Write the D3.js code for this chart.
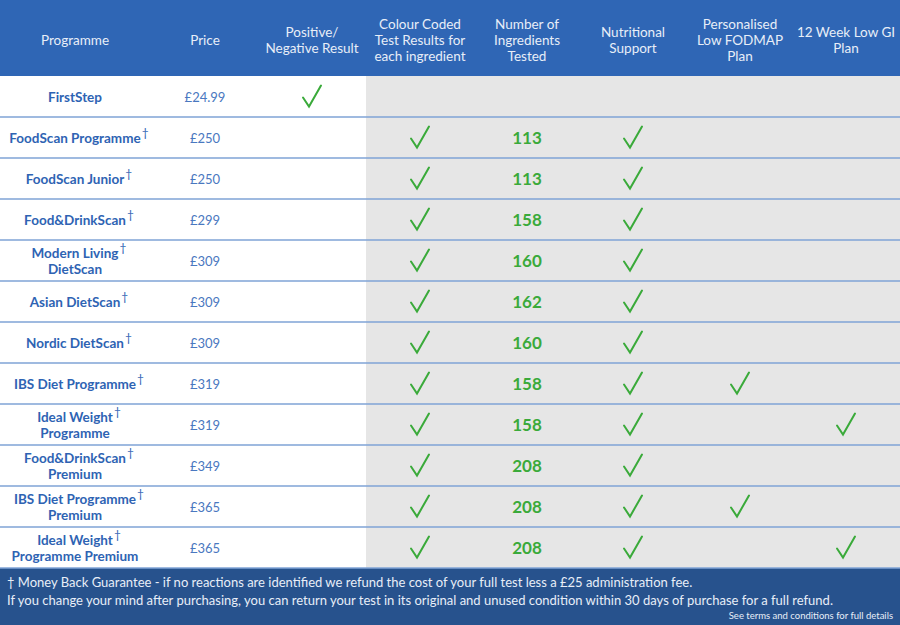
<!DOCTYPE html>
<html><head><meta charset="utf-8">
<script src="https://cdn.jsdelivr.net/npm/d3@7"></script>
<style>body{margin:0;background:#fff}svg{display:block}</style>
</head><body><svg id="c" width="900" height="625"></svg>
<script>
const headers=[["Programme"],["Price"],["Positive/","Negative Result"],["Colour Coded","Test Results for","each ingredient"],["Number of","Ingredients","Tested"],["Nutritional","Support"],["Personalised","Low FODMAP","Plan"],["12 Week Low GI","Plan"]];
const programmes=[["FirstStep"],["FoodScan Programme"],["FoodScan Junior"],["Food&DrinkScan"],["Modern Living","DietScan"],["Asian DietScan"],["Nordic DietScan"],["IBS Diet Programme"],["Ideal Weight","Programme"],["Food&DrinkScan","Premium"],["IBS Diet Programme","Premium"],["Ideal Weight","Programme Premium"]];
const dagger=[false,true,true,true,true,true,true,true,true,true,true,true];
const prices=["£24.99","£250","£250","£299","£309","£309","£309","£319","£319","£349","£365","£365"];
const posNeg=[1,0,0,0,0,0,0,0,0,0,0,0];
const colourCoded=[0,1,1,1,1,1,1,1,1,1,1,1];
const ingredients=[null,113,113,158,160,162,160,158,158,208,208,208];
const nutritional=[0,1,1,1,1,1,1,1,1,1,1,1];
const fodmap=[0,0,0,0,0,0,0,1,0,0,1,0];
const lowGI=[0,0,0,0,0,0,0,0,1,0,0,1];
const footer1="† Money Back Guarantee - if no reactions are identified we refund the cost of your full test less a £25 administration fee.";
const footer2="If you change your mind after purchasing, you can return your test in its original and unused condition within 30 days of purchase for a full refund.";
const footer3="See terms and conditions for full details";

const svg=d3.select("#c");
const F="Lato, 'Open Sans', sans-serif";
const colCenters=[75,205,312,420,527,633,740,846];
const x=d3.scaleOrdinal().domain(d3.range(8)).range(colCenters);
const y=d3.scaleBand().domain(d3.range(programmes.length)).range([76,568]);
const bh=y.bandwidth();

svg.append("rect").attr("width",900).attr("height",76).attr("fill","#2f66b5");
svg.append("rect").attr("x",366).attr("y",76).attr("width",534).attr("height",492).attr("fill","#e6e6e6");
svg.append("rect").attr("y",568).attr("width",900).attr("height",57).attr("fill","#27528d");

headers.forEach((h,i)=>{
  const t=svg.append("text").attr("x",x(i)).attr("text-anchor","middle").attr("fill","#e8eef8").attr("font-family",F).attr("font-size",13.5);
  const y0=40-(h.length-1)*8+5;
  h.forEach((l,j)=>t.append("tspan").attr("x",x(i)).attr("y",y0+j*16).text(l));
});

programmes.forEach((_,i)=>{
  svg.append("line").attr("x1",0).attr("x2",900).attr("y1",y(i)+bh).attr("y2",y(i)+bh).attr("stroke","#7fa3d6").attr("stroke-width",1.5);
});

const cy=i=>y(i)+bh/2;
function tick(cx,cyv){
  svg.append("path").attr("d",`M${cx-9},${cyv+1} L${cx-3},${cyv+10} L${cx+9},${cyv-11}`).attr("fill","none").attr("stroke","#3aaa3a").attr("stroke-width",2).attr("stroke-linecap","round");
}
programmes.forEach((p,i)=>{
  const t=svg.append("text").attr("text-anchor","middle").attr("fill","#2e63b3").attr("font-family",F).attr("font-weight","bold").attr("font-size",13.5);
  const y0=cy(i)-(p.length-1)*8+5;
  p.forEach((l,j)=>{
    const ts=t.append("tspan").attr("x",x(0)).attr("y",y0+j*16).text(l);
    if(dagger[i]&&j===0){}
  });
  if(dagger[i]){
    const node=t.node();const bb=node.getBBox();
    // place dagger after first line
    const first=t.select("tspan").node().getComputedTextLength();
    svg.append("text").attr("x",x(0)+first/2+1).attr("y",y0-6).attr("fill","#2e63b3").attr("font-family",F).attr("font-size",12).text("†");
  }
  svg.append("text").attr("x",x(1)).attr("y",cy(i)+5).attr("text-anchor","middle").attr("fill","#4a78c0").attr("font-family",F).attr("font-size",13).text(prices[i]);
  if(posNeg[i])tick(x(2),cy(i));
  if(colourCoded[i])tick(x(3),cy(i));
  if(ingredients[i]!=null)svg.append("text").attr("x",x(4)).attr("y",cy(i)+6).attr("text-anchor","middle").attr("fill","#3aaa3a").attr("font-family",F).attr("font-weight","bold").attr("font-size",17).text(ingredients[i]);
  if(nutritional[i])tick(x(5),cy(i));
  if(fodmap[i])tick(x(6),cy(i));
  if(lowGI[i])tick(x(7),cy(i));
});

svg.append("text").attr("x",7).attr("y",587).attr("fill","#e8eef8").attr("font-family",F).attr("font-size",13).text(footer1);
svg.append("text").attr("x",7).attr("y",605).attr("fill","#e8eef8").attr("font-family",F).attr("font-size",13).text(footer2);
svg.append("text").attr("x",893).attr("y",619).attr("text-anchor","end").attr("fill","#e8eef8").attr("font-family",F).attr("font-size",9.5).text(footer3);
</script></body></html>
